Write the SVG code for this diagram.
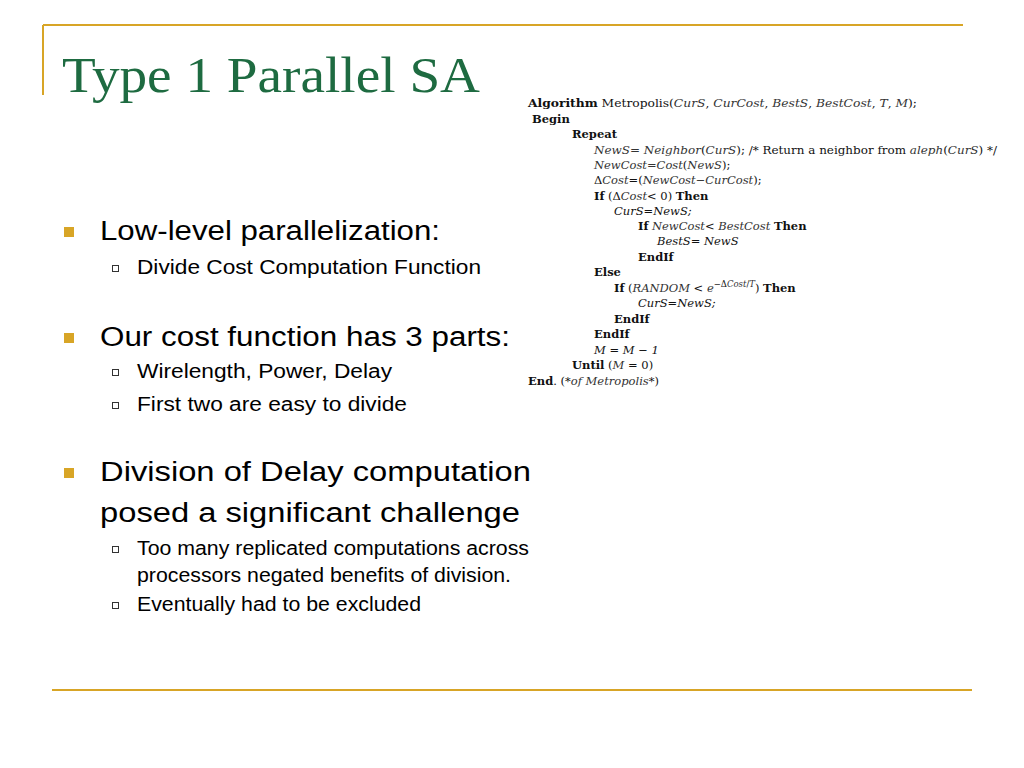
<svg xmlns="http://www.w3.org/2000/svg" width="1024" height="768" viewBox="0 0 1024 768">
<style>
.b{font-family:"Liberation Sans",Arial,sans-serif;fill:#000}
.a{font-family:"DejaVu Serif","Liberation Serif",serif;font-size:11.5px;fill:#111}
.a tspan.i{font-style:italic;fill:#333}
.k{font-weight:bold}
</style>
<rect width="1024" height="768" fill="#fff"/>
<g stroke="#D8A526" stroke-width="2" fill="none">
<line x1="43" y1="25" x2="963" y2="25"/>
<line x1="43" y1="25" x2="43" y2="95"/>
<line x1="52" y1="690" x2="972" y2="690"/>
</g>
<text x="62" y="92" font-family="Liberation Serif,serif" font-size="50" fill="#1E6B41" textLength="418" lengthAdjust="spacingAndGlyphs">Type 1 Parallel SA</text>
<g fill="#D8A526">
<rect x="64" y="227" width="10" height="10"/>
<rect x="64" y="333" width="10" height="10"/>
<rect x="64" y="468" width="10" height="10"/>
</g>
<g fill="none" stroke="#333" stroke-width="1">
<rect x="112.5" y="265.5" width="6" height="6"/>
<rect x="112.5" y="369.5" width="6" height="6"/>
<rect x="112.5" y="402.5" width="6" height="6"/>
<rect x="112.5" y="546.5" width="6" height="6"/>
<rect x="112.5" y="602.5" width="6" height="6"/>
</g>
<g lengthAdjust="spacingAndGlyphs">
<text class="b" x="100" y="240" font-size="27" textLength="340" lengthAdjust="spacingAndGlyphs">Low-level parallelization:</text>
<text class="b" x="137" y="274" font-size="19.5" textLength="344" lengthAdjust="spacingAndGlyphs">Divide Cost Computation Function</text>
<text class="b" x="100" y="346" font-size="27" textLength="410" lengthAdjust="spacingAndGlyphs">Our cost function has 3 parts:</text>
<text class="b" x="137" y="378" font-size="19.5" textLength="255" lengthAdjust="spacingAndGlyphs">Wirelength, Power, Delay</text>
<text class="b" x="137" y="411" font-size="19.5" textLength="270" lengthAdjust="spacingAndGlyphs">First two are easy to divide</text>
<text class="b" x="100" y="481" font-size="27" textLength="431" lengthAdjust="spacingAndGlyphs">Division of Delay computation</text>
<text class="b" x="100" y="522" font-size="27" textLength="420" lengthAdjust="spacingAndGlyphs">posed a significant challenge</text>
<text class="b" x="137" y="555" font-size="19.5" textLength="392" lengthAdjust="spacingAndGlyphs">Too many replicated computations across</text>
<text class="b" x="137" y="582" font-size="19.5" textLength="374" lengthAdjust="spacingAndGlyphs">processors negated benefits of division.</text>
<text class="b" x="137" y="611" font-size="19.5" textLength="284" lengthAdjust="spacingAndGlyphs">Eventually had to be excluded</text>
</g>
<g class="a">
<text x="528" y="107" textLength="389" lengthAdjust="spacingAndGlyphs"><tspan class="k">Algorithm</tspan> Metropolis(<tspan class="i">CurS</tspan>, <tspan class="i">CurCost</tspan>, <tspan class="i">BestS</tspan>, <tspan class="i">BestCost</tspan>, <tspan class="i">T</tspan>, <tspan class="i">M</tspan>);</text>
<text x="532" y="123" class="k">Begin</text>
<text x="572" y="138" class="k">Repeat</text>
<text x="594" y="154" textLength="403" lengthAdjust="spacingAndGlyphs"><tspan class="i">NewS= Neighbor</tspan>(<tspan class="i">CurS</tspan>); /* Return a neighbor from <tspan class="i">aleph</tspan>(<tspan class="i">CurS</tspan>) */</text>
<text x="594" y="169"><tspan class="i">NewCost=Cost</tspan>(<tspan class="i">NewS</tspan>);</text>
<text x="594" y="184">Δ<tspan class="i">Cost</tspan>=(<tspan class="i">NewCost−CurCost</tspan>);</text>
<text x="594" y="200"><tspan class="k">If</tspan>  (Δ<tspan class="i">Cost</tspan>&lt; 0) <tspan class="k">Then</tspan></text>
<text x="614" y="215" font-style="italic">CurS=NewS;</text>
<text x="638" y="230"><tspan class="k">If</tspan> <tspan class="i">NewCost</tspan>&lt; <tspan class="i">BestCost</tspan>  <tspan class="k">Then</tspan></text>
<text x="657" y="245" font-style="italic">BestS= NewS</text>
<text x="638" y="261" class="k">EndIf</text>
<text x="594" y="276" class="k">Else</text>
<text x="614" y="292"><tspan class="k">If</tspan> (<tspan class="i">RANDOM</tspan> &lt; <tspan class="i">e</tspan><tspan font-size="8.5" dy="-5">−Δ<tspan class="i">Cost</tspan>/<tspan class="i">T</tspan></tspan><tspan dy="5">)  </tspan><tspan class="k">Then</tspan></text>
<text x="638" y="307" font-style="italic">CurS=NewS;</text>
<text x="614" y="323" class="k">EndIf</text>
<text x="594" y="338" class="k">EndIf</text>
<text x="594" y="354" font-style="italic">M = M − 1</text>
<text x="572" y="369"><tspan class="k">Until</tspan> (<tspan class="i">M</tspan> = 0)</text>
<text x="528" y="385"><tspan class="k">End</tspan>. (*<tspan class="i">of Metropolis</tspan>*)</text>
</g>
</svg>
